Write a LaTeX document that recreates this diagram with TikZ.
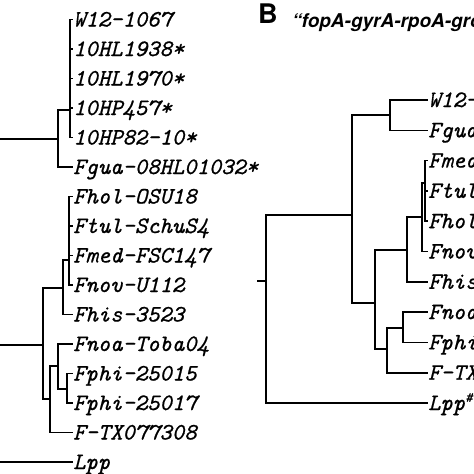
\documentclass[tikz,border=0pt]{standalone}
\usepackage{fontspec}
\newfontfamily\heros{TeX Gyre Heros}
\newfontfamily\leaffont{Latin Modern Mono}[FakeBold=0.7]
\begin{document}
\begin{tikzpicture}[x=1pt,y=-1pt,
  br/.style={line width=1.6pt, line cap=butt},
  leaf/.style={anchor=west, inner sep=0pt, text height=14pt, text depth=0pt,
    font=\fontsize{23.5}{24}\selectfont\leaffont\itshape}]
\useasboundingbox (0,0) rectangle (474,474);
\fill[white] (0,0) rectangle (474,474);

% ---------- Panel A (left) ----------
\foreach \n/\t [count=\i from 0] in {a1/W12–1067,a2/10HL1938*,a3/10HL1970*,a4/10HP457*,a5/10HP82–10*,
  a6/Fgua–08HL01032*,a7/Fhol–OSU18,a8/Ftul–SchuS4,a9/Fmed–FSC147,a10/Fnov–U112,a11/Fhis–3523,
  a12/Fnoa–Toba04,a13/Fphi–25015,a14/Fphi–25017,a15/F–TX077308,a16/Lpp}
  \node[leaf] (\n) at (73,{19.5+29.5*\i}) {\t};

\coordinate (LA) at (70,110);
\coordinate (LB) at (58,139);
\coordinate (LBs) at (-2,139);
\coordinate (LC) at (69,260);
\coordinate (LD) at (63,288);
\coordinate (LE) at (58,366);
\coordinate (LF) at (67,389);
\coordinate (LG) at (50,399);
\coordinate (LH) at (43,345);
\coordinate (LHs) at (-2,345);
\coordinate (Ls) at (-2,462);

\draw[br] (LBs) -- (LB);
\draw[br] (LB) |- (LA);
\draw[br] (LB) |- (a6.west);
\foreach \n in {a1,a2,a3,a4,a5} \draw[br] (LA) |- (\n.west);
\draw[br] (LHs) -- (LH);
\draw[br] (LH) |- (LD);
\draw[br] (LH) |- (LG);
\draw[br] (LD) |- (LC);
\draw[br] (LD) |- (a11.west);
\foreach \n in {a7,a8,a9,a10} \draw[br] (LC) |- (\n.west);
\draw[br] (LG) |- (LE);
\draw[br] (LG) |- (a15.west);
\draw[br] (LE) |- (a12.west);
\draw[br] (LE) |- (LF);
\draw[br] (LF) |- (a13.west);
\draw[br] (LF) |- (a14.west);
\draw[br] (Ls) -- (a16.west);

% ---------- Panel B (right) ----------
\node[anchor=base west, inner sep=0pt, font=\fontsize{27}{28}\selectfont\heros\bfseries] (B) at (258,23) {B};
\node[anchor=base west, inner sep=0pt, font=\fontsize{19}{20}\selectfont\heros\bfseries\itshape] (title) at (292,27) {“fopA-gyrA-rpoA-groEL”};

\foreach \n/\t [count=\i from 0] in {b1/W12–1067,b2/Fgua–08HL01032*,b3/Fmed–FSC147,b4/Ftul–SchuS4,
  b5/Fhol–OSU18,b6/Fnov–U112,b7/Fhis–3523,b8/Fnoa–Toba04,b9/Fphi–25015,b10/F–TX077308}
  \node[leaf] (\n) at (428,{100+30.3*\i}) {\t};
\node[leaf] (b11) at (428,403) {Lpp\raisebox{0.35em}{\fontsize{14}{14}\selectfont\#}};

\coordinate (RA) at (390,115);
\coordinate (RP) at (425,183);
\coordinate (RQ) at (422,217);
\coordinate (RR) at (407,250);
\coordinate (RS) at (375,303);
\coordinate (RT) at (387,349);
\coordinate (RU) at (403,328);
\coordinate (RV) at (352,215);
\coordinate (R0) at (266,281);
\coordinate (R0s) at (257,281);

\draw[br] (R0s) -- (R0);
\draw[br] (R0) |- (RV);
\draw[br] (R0) |- (b11.west);
\draw[br] (RV) |- (RA);
\draw[br] (RV) |- (RS);
\draw[br] (RA) |- (b1.west);
\draw[br] (RA) |- (b2.west);
\draw[br] (RS) |- (RR);
\draw[br] (RS) |- (RT);
\draw[br] (RR) |- (RQ);
\draw[br] (RR) |- (b7.west);
\draw[br] (RQ) |- (RP);
\draw[br] (RQ) |- (b6.west);
\foreach \n in {b3,b4,b5} \draw[br] (RP) |- (\n.west);
\draw[br] (RT) |- (RU);
\draw[br] (RT) |- (b10.west);
\draw[br] (RU) |- (b8.west);
\draw[br] (RU) |- (b9.west);
\end{tikzpicture}
\end{document}
